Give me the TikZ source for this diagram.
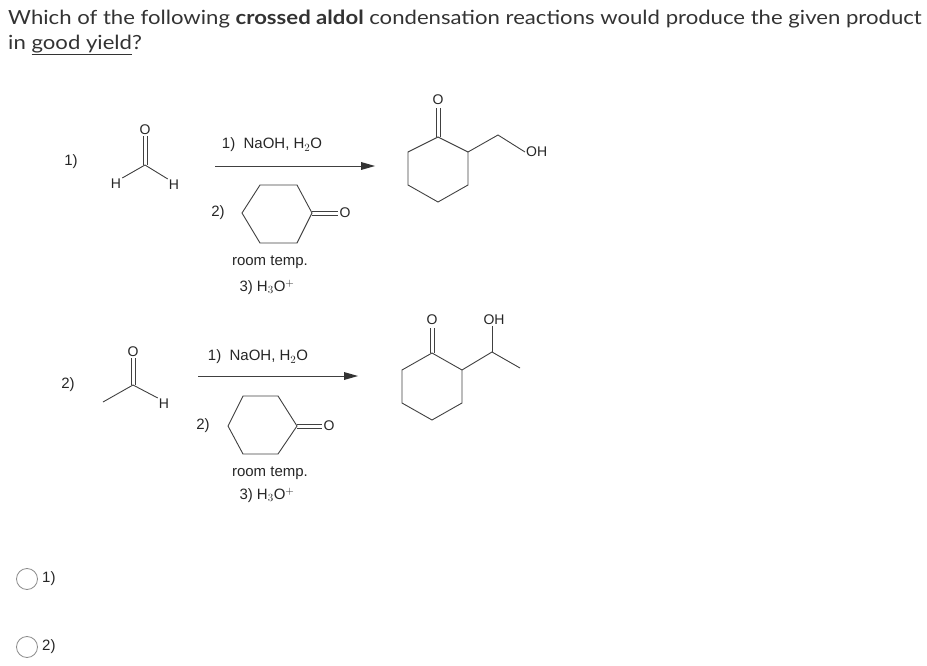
\documentclass[tikz,border=0pt]{standalone}
\usepackage{fontspec}
\setmainfont{Lato}
\newfontfamily\chemf{Liberation Sans}
\begin{document}
\begin{tikzpicture}[x=1pt,y=-1pt,
  bond/.style={line width=0.9pt,draw=black!75},
  lab/.style={font=\chemf\fontsize{15}{17}\selectfont,text=black!85,inner sep=1pt},
  atom/.style={font=\chemf\fontsize{14}{16}\selectfont,text=black!85,inner sep=1pt},
  head/.style={font=\fontsize{19.5}{22}\selectfont,text=black!80,inner sep=0pt,anchor=west,xscale=1.135,transform shape},
  radio/.style={circle,draw=black!45,line width=0.8pt,minimum size=21pt,inner sep=0pt}]
\useasboundingbox (0,0) rectangle (927,666);
% header
\node[head] (q1) at (8,19) {Which of the following \textbf{crossed aldol} condensation reactions would produce the given product};
\node[head] (q2) at (8,45) {in \underline{good yield}?};
% ---------- reaction 1
\node[lab] (n1) at (71,162) {1)};
\node[atom] (o1) at (145,130) {O};
\node[atom] (h1a) at (116,184) {H};
\node[atom] (h1b) at (174,185) {H};
\coordinate (c1) at (145,165);
\draw[bond] (c1) -- (h1a.north east);
\draw[bond] (c1) -- (h1b.north west);
\draw[bond] ([xshift=-2pt]c1) -- ([xshift=-2pt]o1.south);
\draw[bond] ([xshift=2pt]c1) -- ([xshift=2pt]o1.south);
\coordinate (a1s) at (215,166); \coordinate (a1e) at (375,166);
\draw[bond] (a1s) -- ([xshift=-8pt]a1e);
\fill[black!80] (a1e) -- ++(-14,-4) -- ++(0,8) -- cycle;
\node[lab] (r1a) at (272,145) {1) \ NaOH, H$_2$O};
\node[lab] (r1b) at (218,213) {2)};
\draw[bond] (260,185) -- (297,185) -- (312,213) -- (297,243) -- (260,243) -- (242,213) -- cycle;
\node[atom] (o1r) at (345,213) {O};
\draw[bond] (312,211) -- (o1r.west|-0,211);
\draw[bond] (312,215) -- (o1r.west|-0,215);
\node[lab] (r1c) at (270,262) {room temp.};
\node[lab] (r1d) at (267,287) {3) H$_3$O$^{+}$};
% product 1
\node[atom] (p1o) at (438,100) {O};
\draw[bond] (438,137) -- (468,152) -- (468,185) -- (438,202) -- (408,185) -- (408,152) -- cycle;
\draw[bond] (436,137) -- (436,108);
\draw[bond] (440,137) -- (440,108);
\node[atom,anchor=west] (p1oh) at (525,152) {OH};
\draw[bond] (468,152) -- (498,135) -- (p1oh.west);
% ---------- reaction 2
\node[lab] (n2) at (68,385) {2)};
\node[atom] (o2) at (133,352) {O};
\node[atom] (h2) at (164,404) {H};
\coordinate (c2) at (133,385);
\draw[bond] (103,402) -- (c2) -- (h2.north west);
\draw[bond] ([xshift=-2pt]c2) -- ([xshift=-2pt]o2.south);
\draw[bond] ([xshift=2pt]c2) -- ([xshift=2pt]o2.south);
\coordinate (a2s) at (198,376); \coordinate (a2e) at (358,376);
\draw[bond] (a2s) -- ([xshift=-8pt]a2e);
\fill[black!80] (a2e) -- ++(-14,-4) -- ++(0,8) -- cycle;
\node[lab] (r2a) at (258,357) {1) \ NaOH, H$_2$O};
\node[lab] (r2b) at (203,426) {2)};
\draw[bond] (243,396) -- (278,396) -- (297,426) -- (278,454) -- (243,454) -- (228,426) -- cycle;
\node[atom] (o2r) at (329,426) {O};
\draw[bond] (297,424) -- (o2r.west|-0,424);
\draw[bond] (297,428) -- (o2r.west|-0,428);
\node[lab] (r2c) at (270,473) {room temp.};
\node[lab] (r2d) at (267,495) {3) H$_3$O$^{+}$};
% product 2
\node[atom] (p2o) at (432,320) {O};
\draw[bond] (432,353) -- (462,370) -- (462,403) -- (432,420) -- (402,403) -- (402,370) -- cycle;
\draw[bond] (430,353) -- (430,328);
\draw[bond] (434,353) -- (434,328);
\node[atom] (p2oh) at (494,320) {OH};
\draw[bond] (462,370) -- (492,352) -- (520,368);
\draw[bond] (492,352) -- (p2oh.south-|492,0);
% ---------- options
\node[radio] (rb1) at (27,579) {};
\node[lab,anchor=west] (t1) at (41,579) {1)};
\node[radio] (rb2) at (27,647) {};
\node[lab,anchor=west] (t2) at (41,647) {2)};
\end{tikzpicture}
\end{document}
